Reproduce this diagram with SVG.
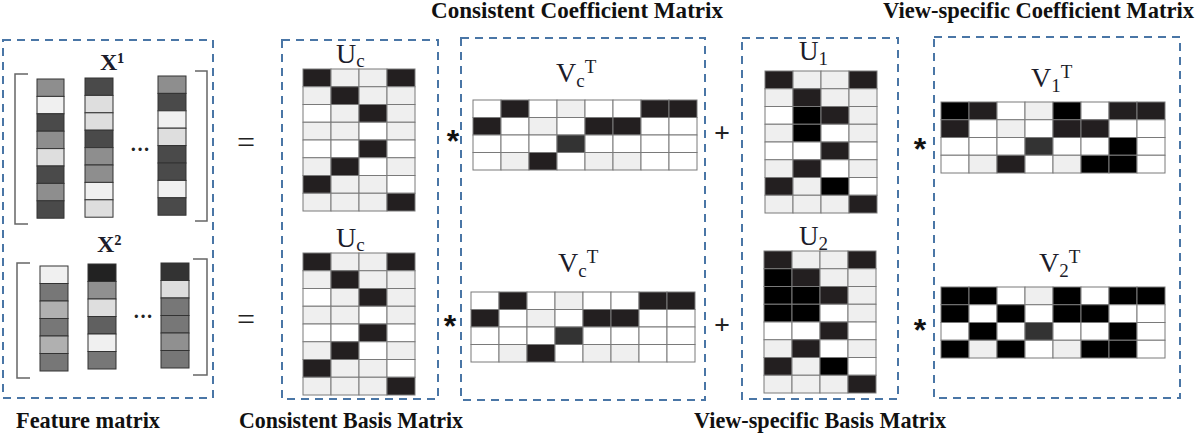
<svg xmlns="http://www.w3.org/2000/svg" xmlns:xlink="http://www.w3.org/1999/xlink" width="1200" height="435" viewBox="0 0 1200 435">
<style>
.box{fill:none;stroke:#4a76a6;stroke-width:2;stroke-dasharray:8 6}
.c rect{stroke:#7a7a7a;stroke-width:1}
.b{fill:#231f20}.k{fill:#000}.l{fill:#efefef}.w{fill:#fff}.d{fill:#333}
.fc rect{stroke:#333;stroke-width:1}
.br{fill:none;stroke:#666;stroke-width:1.5}
.lab{font-family:"Liberation Serif",serif;fill:#1c1c2a}
.ttl{font-family:"Liberation Serif",serif;font-weight:bold;font-size:23px;fill:#111}
.op{font-family:"Liberation Serif",serif;fill:#222}
.st{font-family:"Liberation Sans",sans-serif;font-weight:bold;fill:#111}
</style>
<defs>
<g id="mUc" class="c">
<rect class="b" x="0" y="0" width="28" height="17.75"/><rect class="l" x="28" y="0" width="28" height="17.75"/><rect class="l" x="56" y="0" width="28" height="17.75"/><rect class="b" x="84" y="0" width="28" height="17.75"/>
<rect class="l" x="0" y="17.75" width="28" height="17.75"/><rect class="b" x="28" y="17.75" width="28" height="17.75"/><rect class="l" x="56" y="17.75" width="28" height="17.75"/><rect class="l" x="84" y="17.75" width="28" height="17.75"/>
<rect class="w" x="0" y="35.5" width="28" height="17.75"/><rect class="l" x="28" y="35.5" width="28" height="17.75"/><rect class="b" x="56" y="35.5" width="28" height="17.75"/><rect class="l" x="84" y="35.5" width="28" height="17.75"/>
<rect class="l" x="0" y="53.25" width="28" height="17.75"/><rect class="l" x="28" y="53.25" width="28" height="17.75"/><rect class="w" x="56" y="53.25" width="28" height="17.75"/><rect class="l" x="84" y="53.25" width="28" height="17.75"/>
<rect class="w" x="0" y="71" width="28" height="17.75"/><rect class="w" x="28" y="71" width="28" height="17.75"/><rect class="b" x="56" y="71" width="28" height="17.75"/><rect class="w" x="84" y="71" width="28" height="17.75"/>
<rect class="l" x="0" y="88.75" width="28" height="17.75"/><rect class="b" x="28" y="88.75" width="28" height="17.75"/><rect class="w" x="56" y="88.75" width="28" height="17.75"/><rect class="l" x="84" y="88.75" width="28" height="17.75"/>
<rect class="b" x="0" y="106.5" width="28" height="17.75"/><rect class="l" x="28" y="106.5" width="28" height="17.75"/><rect class="l" x="56" y="106.5" width="28" height="17.75"/><rect class="w" x="84" y="106.5" width="28" height="17.75"/>
<rect class="l" x="0" y="124.25" width="28" height="17.75"/><rect class="l" x="28" y="124.25" width="28" height="17.75"/><rect class="l" x="56" y="124.25" width="28" height="17.75"/><rect class="b" x="84" y="124.25" width="28" height="17.75"/>
</g>
<g id="mVc" class="c">
<rect class="w" x="0" y="0" width="28" height="17.5"/><rect class="b" x="28" y="0" width="28" height="17.5"/><rect class="w" x="56" y="0" width="28" height="17.5"/><rect class="l" x="84" y="0" width="28" height="17.5"/><rect class="w" x="112" y="0" width="28" height="17.5"/><rect class="w" x="140" y="0" width="28" height="17.5"/><rect class="b" x="168" y="0" width="28" height="17.5"/><rect class="b" x="196" y="0" width="28" height="17.5"/>
<rect class="b" x="0" y="17.5" width="28" height="17.5"/><rect class="w" x="28" y="17.5" width="28" height="17.5"/><rect class="l" x="56" y="17.5" width="28" height="17.5"/><rect class="w" x="84" y="17.5" width="28" height="17.5"/><rect class="b" x="112" y="17.5" width="28" height="17.5"/><rect class="b" x="140" y="17.5" width="28" height="17.5"/><rect class="w" x="168" y="17.5" width="28" height="17.5"/><rect class="w" x="196" y="17.5" width="28" height="17.5"/>
<rect class="w" x="0" y="35" width="28" height="17.5"/><rect class="w" x="28" y="35" width="28" height="17.5"/><rect class="w" x="56" y="35" width="28" height="17.5"/><rect class="d" x="84" y="35" width="28" height="17.5"/><rect class="w" x="112" y="35" width="28" height="17.5"/><rect class="w" x="140" y="35" width="28" height="17.5"/><rect class="w" x="168" y="35" width="28" height="17.5"/><rect class="w" x="196" y="35" width="28" height="17.5"/>
<rect class="w" x="0" y="52.5" width="28" height="17.5"/><rect class="l" x="28" y="52.5" width="28" height="17.5"/><rect class="b" x="56" y="52.5" width="28" height="17.5"/><rect class="w" x="84" y="52.5" width="28" height="17.5"/><rect class="l" x="112" y="52.5" width="28" height="17.5"/><rect class="l" x="140" y="52.5" width="28" height="17.5"/><rect class="w" x="168" y="52.5" width="28" height="17.5"/><rect class="w" x="196" y="52.5" width="28" height="17.5"/>
</g>
</defs>

<g id="feature-matrix">
<rect class="box" x="3" y="40" width="210" height="358"/>
<text class="lab" x="100" y="70" font-size="24" font-weight="bold">X¹</text>
<path class="br" d="M28,74 H15 V224 H28"/>
<path class="br" d="M195,71 H207 V221 H195"/>
<g class="fc">
<rect x="37" y="79" width="27" height="17.4" fill="#8e8e8e"/><rect x="37" y="96.4" width="27" height="17.4" fill="#f0f0f0"/><rect x="37" y="113.8" width="27" height="17.4" fill="#4a4a4a"/><rect x="37" y="131.2" width="27" height="17.4" fill="#8e8e8e"/><rect x="37" y="148.6" width="27" height="17.4" fill="#dedede"/><rect x="37" y="166" width="27" height="17.4" fill="#4a4a4a"/><rect x="37" y="183.4" width="27" height="17.4" fill="#8e8e8e"/><rect x="37" y="200.8" width="27" height="17.4" fill="#4a4a4a"/>
<rect x="85" y="78" width="28" height="17.4" fill="#4a4a4a"/><rect x="85" y="95.4" width="28" height="17.4" fill="#dedede"/><rect x="85" y="112.8" width="28" height="17.4" fill="#dedede"/><rect x="85" y="130.2" width="28" height="17.4" fill="#4a4a4a"/><rect x="85" y="147.6" width="28" height="17.4" fill="#8e8e8e"/><rect x="85" y="165" width="28" height="17.4" fill="#8e8e8e"/><rect x="85" y="182.4" width="28" height="17.4" fill="#f0f0f0"/><rect x="85" y="199.8" width="28" height="17.4" fill="#dedede"/>
<rect x="158" y="76" width="28" height="17.4" fill="#8e8e8e"/><rect x="158" y="93.4" width="28" height="17.4" fill="#4a4a4a"/><rect x="158" y="110.8" width="28" height="17.4" fill="#f0f0f0"/><rect x="158" y="128.2" width="28" height="17.4" fill="#dedede"/><rect x="158" y="145.6" width="28" height="17.4" fill="#4a4a4a"/><rect x="158" y="163" width="28" height="17.4" fill="#4a4a4a"/><rect x="158" y="180.4" width="28" height="17.4" fill="#f0f0f0"/><rect x="158" y="197.8" width="28" height="17.4" fill="#4a4a4a"/>
</g>
<text class="op" x="130" y="156" font-size="20" font-weight="bold">···</text>
<text class="lab" x="97" y="252" font-size="24" font-weight="bold">X²</text>
<path class="br" d="M30,263 H17 V378 H30"/>
<path class="br" d="M193,259 H207 V375 H193"/>
<g class="fc">
<rect x="40" y="266" width="28" height="17.5" fill="#f0f0f0"/><rect x="40" y="283.5" width="28" height="17.5" fill="#777"/><rect x="40" y="301" width="28" height="17.5" fill="#b0b0b0"/><rect x="40" y="318.5" width="28" height="17.5" fill="#777"/><rect x="40" y="336" width="28" height="17.5" fill="#b0b0b0"/><rect x="40" y="353.5" width="28" height="17.5" fill="#777"/>
<rect x="88" y="264" width="28" height="17.5" fill="#222"/><rect x="88" y="281.5" width="28" height="17.5" fill="#909090"/><rect x="88" y="299" width="28" height="17.5" fill="#dedede"/><rect x="88" y="316.5" width="28" height="17.5" fill="#606060"/><rect x="88" y="334" width="28" height="17.5" fill="#f0f0f0"/><rect x="88" y="351.5" width="28" height="17.5" fill="#777"/>
<rect x="161" y="263" width="28" height="17.5" fill="#333"/><rect x="161" y="280.5" width="28" height="17.5" fill="#dedede"/><rect x="161" y="298" width="28" height="17.5" fill="#777"/><rect x="161" y="315.5" width="28" height="17.5" fill="#777"/><rect x="161" y="333" width="28" height="17.5" fill="#909090"/><rect x="161" y="350.5" width="28" height="17.5" fill="#777"/>
</g>
<text class="op" x="133" y="323" font-size="20" font-weight="bold">···</text>
</g>

<g id="consistent-basis">
<rect class="box" x="282" y="40" width="156" height="359"/>
<text class="lab" x="336" y="63" font-size="28">U<tspan font-size="19" dy="4">c</tspan></text>
<use xlink:href="#mUc" x="303" y="69"/>
<text class="lab" x="336" y="247" font-size="28">U<tspan font-size="19" dy="4">c</tspan></text>
<use xlink:href="#mUc" x="303" y="253"/>
</g>

<g id="consistent-coefficient">
<rect class="box" x="461" y="38" width="244" height="362"/>
<text class="lab" x="556" y="82" font-size="28">V<tspan font-size="19" dy="5">c</tspan><tspan font-size="19" dy="-14">T</tspan></text>
<use xlink:href="#mVc" x="473" y="100"/>
<text class="lab" x="558" y="272" font-size="28">V<tspan font-size="19" dy="5">c</tspan><tspan font-size="19" dy="-14">T</tspan></text>
<use xlink:href="#mVc" x="471" y="292"/>
</g>

<g id="view-specific-basis">
<rect class="box" x="742" y="38" width="156" height="361"/>
<text class="lab" x="799" y="60" font-size="27">U<tspan font-size="19" dy="5">1</tspan></text>
<g class="c" transform="translate(765,71)">
<rect class="b" x="0" y="0" width="28" height="17.75"/><rect class="l" x="28" y="0" width="28" height="17.75"/><rect class="l" x="56" y="0" width="28" height="17.75"/><rect class="b" x="84" y="0" width="28" height="17.75"/>
<rect class="l" x="0" y="17.75" width="28" height="17.75"/><rect class="b" x="28" y="17.75" width="28" height="17.75"/><rect class="l" x="56" y="17.75" width="28" height="17.75"/><rect class="l" x="84" y="17.75" width="28" height="17.75"/>
<rect class="w" x="0" y="35.5" width="28" height="17.75"/><rect class="k" x="28" y="35.5" width="28" height="17.75"/><rect class="b" x="56" y="35.5" width="28" height="17.75"/><rect class="l" x="84" y="35.5" width="28" height="17.75"/>
<rect class="l" x="0" y="53.25" width="28" height="17.75"/><rect class="k" x="28" y="53.25" width="28" height="17.75"/><rect class="w" x="56" y="53.25" width="28" height="17.75"/><rect class="l" x="84" y="53.25" width="28" height="17.75"/>
<rect class="w" x="0" y="71" width="28" height="17.75"/><rect class="w" x="28" y="71" width="28" height="17.75"/><rect class="b" x="56" y="71" width="28" height="17.75"/><rect class="w" x="84" y="71" width="28" height="17.75"/>
<rect class="l" x="0" y="88.75" width="28" height="17.75"/><rect class="b" x="28" y="88.75" width="28" height="17.75"/><rect class="w" x="56" y="88.75" width="28" height="17.75"/><rect class="l" x="84" y="88.75" width="28" height="17.75"/>
<rect class="b" x="0" y="106.5" width="28" height="17.75"/><rect class="l" x="28" y="106.5" width="28" height="17.75"/><rect class="k" x="56" y="106.5" width="28" height="17.75"/><rect class="w" x="84" y="106.5" width="28" height="17.75"/>
<rect class="l" x="0" y="124.25" width="28" height="17.75"/><rect class="l" x="28" y="124.25" width="28" height="17.75"/><rect class="l" x="56" y="124.25" width="28" height="17.75"/><rect class="b" x="84" y="124.25" width="28" height="17.75"/>
</g>
<text class="lab" x="799" y="245" font-size="27">U<tspan font-size="19" dy="5">2</tspan></text>
<g class="c" transform="translate(764,251)">
<rect class="b" x="0" y="0" width="28" height="17.75"/><rect class="l" x="28" y="0" width="28" height="17.75"/><rect class="l" x="56" y="0" width="28" height="17.75"/><rect class="b" x="84" y="0" width="28" height="17.75"/>
<rect class="k" x="0" y="17.75" width="28" height="17.75"/><rect class="b" x="28" y="17.75" width="28" height="17.75"/><rect class="l" x="56" y="17.75" width="28" height="17.75"/><rect class="l" x="84" y="17.75" width="28" height="17.75"/>
<rect class="k" x="0" y="35.5" width="28" height="17.75"/><rect class="k" x="28" y="35.5" width="28" height="17.75"/><rect class="b" x="56" y="35.5" width="28" height="17.75"/><rect class="l" x="84" y="35.5" width="28" height="17.75"/>
<rect class="k" x="0" y="53.25" width="28" height="17.75"/><rect class="k" x="28" y="53.25" width="28" height="17.75"/><rect class="w" x="56" y="53.25" width="28" height="17.75"/><rect class="l" x="84" y="53.25" width="28" height="17.75"/>
<rect class="w" x="0" y="71" width="28" height="17.75"/><rect class="w" x="28" y="71" width="28" height="17.75"/><rect class="b" x="56" y="71" width="28" height="17.75"/><rect class="w" x="84" y="71" width="28" height="17.75"/>
<rect class="l" x="0" y="88.75" width="28" height="17.75"/><rect class="b" x="28" y="88.75" width="28" height="17.75"/><rect class="w" x="56" y="88.75" width="28" height="17.75"/><rect class="l" x="84" y="88.75" width="28" height="17.75"/>
<rect class="b" x="0" y="106.5" width="28" height="17.75"/><rect class="l" x="28" y="106.5" width="28" height="17.75"/><rect class="k" x="56" y="106.5" width="28" height="17.75"/><rect class="w" x="84" y="106.5" width="28" height="17.75"/>
<rect class="l" x="0" y="124.25" width="28" height="17.75"/><rect class="l" x="28" y="124.25" width="28" height="17.75"/><rect class="l" x="56" y="124.25" width="28" height="17.75"/><rect class="b" x="84" y="124.25" width="28" height="17.75"/>
</g>
</g>

<g id="view-specific-coefficient">
<rect class="box" x="934" y="37" width="246" height="361"/>
<text class="lab" x="1031" y="87" font-size="28">V<tspan font-size="19" dy="5">1</tspan><tspan font-size="19" dy="-14">T</tspan></text>
<g class="c" transform="translate(941,102)">
<rect class="k" x="0" y="0" width="28" height="17.75"/><rect class="b" x="28" y="0" width="28" height="17.75"/><rect class="w" x="56" y="0" width="28" height="17.75"/><rect class="l" x="84" y="0" width="28" height="17.75"/><rect class="k" x="112" y="0" width="28" height="17.75"/><rect class="w" x="140" y="0" width="28" height="17.75"/><rect class="b" x="168" y="0" width="28" height="17.75"/><rect class="b" x="196" y="0" width="28" height="17.75"/>
<rect class="b" x="0" y="17.75" width="28" height="17.75"/><rect class="w" x="28" y="17.75" width="28" height="17.75"/><rect class="l" x="56" y="17.75" width="28" height="17.75"/><rect class="w" x="84" y="17.75" width="28" height="17.75"/><rect class="b" x="112" y="17.75" width="28" height="17.75"/><rect class="b" x="140" y="17.75" width="28" height="17.75"/><rect class="w" x="168" y="17.75" width="28" height="17.75"/><rect class="w" x="196" y="17.75" width="28" height="17.75"/>
<rect class="w" x="0" y="35.5" width="28" height="17.75"/><rect class="w" x="28" y="35.5" width="28" height="17.75"/><rect class="w" x="56" y="35.5" width="28" height="17.75"/><rect class="d" x="84" y="35.5" width="28" height="17.75"/><rect class="w" x="112" y="35.5" width="28" height="17.75"/><rect class="w" x="140" y="35.5" width="28" height="17.75"/><rect class="k" x="168" y="35.5" width="28" height="17.75"/><rect class="w" x="196" y="35.5" width="28" height="17.75"/>
<rect class="w" x="0" y="53.25" width="28" height="17.75"/><rect class="l" x="28" y="53.25" width="28" height="17.75"/><rect class="b" x="56" y="53.25" width="28" height="17.75"/><rect class="w" x="84" y="53.25" width="28" height="17.75"/><rect class="l" x="112" y="53.25" width="28" height="17.75"/><rect class="k" x="140" y="53.25" width="28" height="17.75"/><rect class="k" x="168" y="53.25" width="28" height="17.75"/><rect class="w" x="196" y="53.25" width="28" height="17.75"/>
</g>
<text class="lab" x="1039" y="272" font-size="28">V<tspan font-size="19" dy="5">2</tspan><tspan font-size="19" dy="-14">T</tspan></text>
<g class="c" transform="translate(941,287)">
<rect class="k" x="0" y="0" width="28" height="17.75"/><rect class="k" x="28" y="0" width="28" height="17.75"/><rect class="w" x="56" y="0" width="28" height="17.75"/><rect class="l" x="84" y="0" width="28" height="17.75"/><rect class="k" x="112" y="0" width="28" height="17.75"/><rect class="w" x="140" y="0" width="28" height="17.75"/><rect class="k" x="168" y="0" width="28" height="17.75"/><rect class="k" x="196" y="0" width="28" height="17.75"/>
<rect class="k" x="0" y="17.75" width="28" height="17.75"/><rect class="w" x="28" y="17.75" width="28" height="17.75"/><rect class="k" x="56" y="17.75" width="28" height="17.75"/><rect class="w" x="84" y="17.75" width="28" height="17.75"/><rect class="k" x="112" y="17.75" width="28" height="17.75"/><rect class="k" x="140" y="17.75" width="28" height="17.75"/><rect class="w" x="168" y="17.75" width="28" height="17.75"/><rect class="w" x="196" y="17.75" width="28" height="17.75"/>
<rect class="w" x="0" y="35.5" width="28" height="17.75"/><rect class="k" x="28" y="35.5" width="28" height="17.75"/><rect class="w" x="56" y="35.5" width="28" height="17.75"/><rect class="d" x="84" y="35.5" width="28" height="17.75"/><rect class="w" x="112" y="35.5" width="28" height="17.75"/><rect class="w" x="140" y="35.5" width="28" height="17.75"/><rect class="k" x="168" y="35.5" width="28" height="17.75"/><rect class="w" x="196" y="35.5" width="28" height="17.75"/>
<rect class="k" x="0" y="53.25" width="28" height="17.75"/><rect class="l" x="28" y="53.25" width="28" height="17.75"/><rect class="k" x="56" y="53.25" width="28" height="17.75"/><rect class="w" x="84" y="53.25" width="28" height="17.75"/><rect class="l" x="112" y="53.25" width="28" height="17.75"/><rect class="k" x="140" y="53.25" width="28" height="17.75"/><rect class="k" x="168" y="53.25" width="28" height="17.75"/><rect class="w" x="196" y="53.25" width="28" height="17.75"/>
</g>
</g>

<g id="operators">
<text class="op" x="246" y="153" font-size="32" text-anchor="middle">=</text>
<text class="op" x="246" y="330" font-size="32" text-anchor="middle">=</text>
<text class="st" x="453" y="152" font-size="32" text-anchor="middle">*</text>
<text class="st" x="450" y="337" font-size="32" text-anchor="middle">*</text>
<text class="op" x="722" y="142" font-size="28" font-weight="bold" text-anchor="middle">+</text>
<text class="op" x="722" y="334" font-size="28" font-weight="bold" text-anchor="middle">+</text>
<text class="st" x="920" y="160" font-size="32" text-anchor="middle">*</text>
<text class="st" x="920" y="341" font-size="32" text-anchor="middle">*</text>
</g>

<g id="titles">
<text class="ttl" x="431" y="18" textLength="292" lengthAdjust="spacingAndGlyphs">Consistent Coefficient Matrix</text>
<text class="ttl" x="883" y="18" textLength="311" lengthAdjust="spacingAndGlyphs">View-specific Coefficient Matrix</text>
<text class="ttl" x="16" y="428" textLength="144" lengthAdjust="spacingAndGlyphs">Feature matrix</text>
<text class="ttl" x="239" y="428" textLength="224" lengthAdjust="spacingAndGlyphs">Consistent Basis Matrix</text>
<text class="ttl" x="694" y="428" textLength="252" lengthAdjust="spacingAndGlyphs">View-specific Basis Matrix</text>
</g>
</svg>
